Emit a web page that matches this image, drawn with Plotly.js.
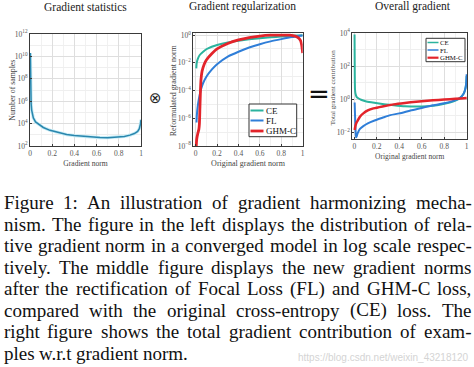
<!DOCTYPE html>
<html><head><meta charset="utf-8">
<script src="https://cdn.plot.ly/plotly-3.0.1.min.js"></script>
<style>html,body{margin:0;padding:0;background:#fff;}#chart{width:474px;height:367px;}</style>
</head><body><div id="chart"></div>
<script>
// ---------- data ----------
// Panel 1: Gradient statistics
const statX = [0.003,0.004,0.005,0.0065,0.008,0.01,0.015,0.02,0.03,0.05,0.08,0.12,0.18,0.25,0.33,0.4,0.48,0.55,0.63,0.7,0.78,0.85,0.9,0.94,0.97,0.985,0.995,1.0];
const statY = [2e10,1e9,1.6e8,1.6e7,3.2e6,6.3e5,1.6e5,8e4,3.2e4,1.4e4,8e3,4.5e3,2.5e3,1.6e3,1.05e3,850,720,630,560,550,590,710,930,1.3e3,2e3,3.5e3,9e3,2.2e4];

// Panel 2: Gradient regularization
const regCEx = [0.006,0.01,0.02,0.04,0.07,0.1,0.15,0.2,0.3,0.4,0.5,0.6,0.7,0.8,0.9,1.0];
const regCEy = [0.004,0.01,0.019,0.038,0.063,0.095,0.145,0.195,0.295,0.39,0.49,0.59,0.69,0.79,0.89,0.98];
const regFLx = [0.008,0.012,0.02,0.03,0.05,0.07,0.1,0.15,0.2,0.3,0.4,0.5,0.6,0.7,0.8,0.9,1.0];
const regFLy = [5e-7,2e-6,8e-6,2.5e-5,1.25e-4,3.5e-4,1e-3,3.2e-3,7.9e-3,0.028,0.063,0.126,0.22,0.35,0.51,0.72,0.95];
const regGHMx = [0.005,0.01,0.02,0.03,0.035,0.04,0.045,0.05,0.06,0.08,0.1,0.15,0.2,0.3,0.4,0.5,0.6,0.7,0.8,0.88,0.93,0.96,0.98,0.99,1.0];
const regGHMy = [8e-9,3.2e-8,8e-8,1.6e-7,4e-7,6.3e-6,1e-4,6.3e-4,2.5e-3,7.9e-3,0.016,0.045,0.1,0.25,0.45,0.66,0.85,0.98,1.0,0.98,0.83,0.63,0.4,0.2,0.05];

// Panel 3: Overall gradient
const totCEx = [0.002,0.004,0.006,0.01,0.02,0.035,0.06,0.1,0.15,0.25,0.35,0.45,0.55,0.65,0.75,0.85,0.9,0.94,0.97,0.985,0.995,1.0];
const totCEy = [8000,32,4,2.2,1.4,1.15,0.93,0.76,0.66,0.52,0.44,0.38,0.36,0.38,0.45,0.63,0.83,1.2,2.0,3.5,7.9,25];
const totFLx = [0.003,0.006,0.01,0.015,0.02,0.03,0.05,0.08,0.12,0.18,0.25,0.32,0.4,0.5,0.6,0.7,0.8,0.86,0.9,0.94,0.97,0.985,0.995,1.0];
const totFLy = [0.63,0.126,0.02,0.005,0.0056,0.0089,0.016,0.024,0.035,0.052,0.076,0.11,0.14,0.21,0.3,0.43,0.58,0.72,0.89,1.2,2.0,3.5,7.9,32];
const totGHMx = [0.003,0.01,0.02,0.03,0.05,0.08,0.12,0.17,0.25,0.35,0.45,0.55,0.65,0.75,0.85,0.95,1.0];
const totGHMy = [0.014,0.025,0.04,0.052,0.089,0.14,0.21,0.28,0.37,0.49,0.6,0.71,0.81,0.91,1.0,1.12,1.2];

// Labels
const seriesNames = ['CE','FL','GHM-C'];
const xTickVals = [0,0.2,0.4,0.6,0.8,1];
const xTickText = ['0','0.2','0.4','0.6','0.8','1'];
const panelTitles = ['Gradient statistics','Gradient regularization','Overall gradient'];
const xTitles = ['Gradient norm','Original gradient norm','Original gradient norm'];
const yTitles = ['Number of samples','Reformulated gradient norm','Total gradient contribution'];
const y1Exp = [2,4,6,8,10,12];
const y2Exp = [-8,-6,-4,-2,0];
const y3Exp = [-2,0,2,4];
const captionLines = [
 'Figure 1: An illustration of gradient harmonizing mecha-',
 'nism. The figure in the left displays the distribution of rela-',
 'tive gradient norm in a converged model in log scale respec-',
 'tively. The middle figure displays the new gradient norms',
 'after the rectification of Focal Loss (FL) and GHM-C loss,',
 'compared with the original cross-entropy (CE) loss. The',
 'right figure shows the total gradient contribution of exam-',
 'ples w.r.t gradient norm.'
];
const watermark = 'https://blog.csdn.net/weixin_43218120';

// ---------- styling / layout ----------
const W = 474, H = 367;
const px = x => x / W;
const py = y => 1 - y / H;
const C_CE = '#2bb39e', C_FL = '#2f7ed8', C_GHM = '#e3242b';
const SERIF = '"Liberation Serif", "Times New Roman", serif';

const decTicks = exps => exps.map(e => Math.pow(10, e));
const decText = exps => exps.map(e => '10<sup>' + (e < 0 ? '\u2212' + (-e) : e) + '</sup>');
const oddDec = exps => { const o = []; for (let i = 0; i < exps.length - 1; i++) o.push(Math.pow(10, (exps[i] + exps[i+1]) / 2)); return o; };

const axBase = {
  showline: true, mirror: true, linecolor: '#3a3a3a', linewidth: 1,
  showgrid: true, gridcolor: '#dedede', gridwidth: 1, zeroline: false,
  ticks: 'inside', ticklen: 2, tickcolor: '#3a3a3a',
  tickfont: {family: SERIF, size: 7.5, color: '#555'},
  automargin: false
};
function xAx(dom, range, title, anchor, tsize) {
  return Object.assign({}, axBase, {
    domain: dom, range: range, anchor: anchor,
    tickmode: 'array', tickvals: xTickVals, ticktext: xTickText,
    minor: {dtick: 0.1, showgrid: true, gridcolor: '#f1f1f1', ticks: ''},
    title: {text: title, font: {family: SERIF, size: tsize, color: '#444'}, standoff: 3}
  });
}
function yAx(dom, range, exps, anchor) {
  return Object.assign({}, axBase, {
    domain: dom, type: 'log', range: range, anchor: anchor,
    tickmode: 'array', tickvals: decTicks(exps), ticktext: decText(exps),
    minor: {tickmode: 'array', tickvals: oddDec(exps), showgrid: true, gridcolor: '#efefef', ticks: ''}
  });
}

const traces = [
  {x: statX, y: statY, xaxis: 'x', yaxis: 'y', mode: 'lines', line: {color: '#c6ecf6', width: 3.2}, hoverinfo: 'skip', name: 'band'},
  {x: statX, y: statY, xaxis: 'x', yaxis: 'y', mode: 'lines', line: {color: '#2a86ad', width: 1.5}, name: 'count'},
  {x: regCEx, y: regCEy, xaxis: 'x2', yaxis: 'y2', mode: 'lines', line: {color: C_CE, width: 2, shape: 'spline', smoothing: 0.6}, name: seriesNames[0]},
  {x: regFLx, y: regFLy, xaxis: 'x2', yaxis: 'y2', mode: 'lines', line: {color: C_FL, width: 2, shape: 'spline', smoothing: 0.6}, name: seriesNames[1]},
  {x: regGHMx, y: regGHMy, xaxis: 'x2', yaxis: 'y2', mode: 'lines', line: {color: C_GHM, width: 2.8, shape: 'spline', smoothing: 0.6}, name: seriesNames[2]},
  {x: totCEx, y: totCEy, xaxis: 'x3', yaxis: 'y3', mode: 'lines', line: {color: C_CE, width: 2, shape: 'spline', smoothing: 0.6}, name: seriesNames[0]},
  {x: totFLx, y: totFLy, xaxis: 'x3', yaxis: 'y3', mode: 'lines', line: {color: C_FL, width: 2, shape: 'spline', smoothing: 0.6}, name: seriesNames[1]},
  {x: totGHMx, y: totGHMy, xaxis: 'x3', yaxis: 'y3', mode: 'lines', line: {color: C_GHM, width: 2.5, shape: 'spline', smoothing: 0.6}, name: seriesNames[2]}
];

const shapes = [];
const annotations = [];
function ann(text, x, y, size, opts) {
  annotations.push(Object.assign({
    text: text, x: px(x), y: py(y), xref: 'paper', yref: 'paper',
    showarrow: false, xanchor: 'center', yanchor: 'middle', borderpad: 0,
    font: {family: SERIF, size: size, color: '#222'}
  }, opts || {}));
}
// panel titles
ann(panelTitles[0], 85, 7, 11.5);
ann(panelTitles[1], 242.5, 7, 11.5);
ann(panelTitles[2], 412.5, 6.5, 11.5);
// y-axis titles (rotated)
ann(yTitles[0], 11.7, 90, 7.8, {textangle: -90, font: {family: SERIF, size: 7.8, color: '#444'}});
ann(yTitles[1], 173.3, 90, 8, {textangle: -90, font: {family: SERIF, size: 8, color: '#444'}});
ann(yTitles[2], 333.3, 88, 7, {textangle: -90, font: {family: SERIF, size: 7, color: '#444'}});
// operators
ann('\u2297', 155, 98, 15, {font: {family: '"DejaVu Sans", sans-serif', size: 15, color: '#222'}});
ann('=', 319, 94, 26, {font: {family: '"DejaVu Sans", sans-serif', size: 26, color: '#111'}});

// manual legends
function legend(box, x0, x1, ys, tx, fsize, widths) {
  shapes.push({type: 'rect', xref: 'paper', yref: 'paper', x0: px(box[0]), x1: px(box[1]), y0: py(box[3]), y1: py(box[2]),
    line: {color: '#333', width: 1}, fillcolor: '#fff', layer: 'above'});
  const cols = [C_CE, C_FL, C_GHM];
  ys.forEach((y, i) => {
    shapes.push({type: 'line', xref: 'paper', yref: 'paper', x0: px(x0), x1: px(x1), y0: py(y), y1: py(y),
      line: {color: cols[i], width: widths[i]}, layer: 'above'});
    ann(seriesNames[i], tx, y, fsize, {xanchor: 'left', font: {family: SERIF, size: fsize, color: '#111'}});
  });
}
legend([249, 296.7, 104, 136.7], 250.5, 263.5, [110.5, 120.5, 131], 264.5, 9, [2, 2, 2.8]);
legend([426, 465, 38.3, 61.7], 427.5, 438.5, [42.5, 50, 57.7], 439, 6.8, [1.5, 1.5, 2.2]);

// caption (justified by measuring words)
const CAP = 19;
const ctx = document.createElement('canvas').getContext('2d');
ctx.font = CAP + 'px "Liberation Serif"';
const capLeft = 2.5, capRight = 470.5;
const baselines = [209, 230.5, 252, 273.5, 295, 316.5, 338, 359.5];
captionLines.forEach((line, li) => {
  const words = line.split(' ');
  const widths = words.map(w => ctx.measureText(w).width);
  const total = widths.reduce((a, b) => a + b, 0);
  const last = li === captionLines.length - 1;
  const gap = last ? ctx.measureText(' ').width : (capRight - capLeft - total) / (words.length - 1);
  let x = capLeft;
  const yc = baselines[li] - 0.3375 * CAP;
  words.forEach((w, i) => {
    annotations.push({text: w, x: px(x), y: py(yc), xref: 'paper', yref: 'paper', showarrow: false,
      xanchor: 'left', yanchor: 'middle', borderpad: 0, font: {family: SERIF, size: CAP, color: '#111'}});
    x += widths[i] + gap;
  });
});
ann(watermark, 470, 357, 10, {xanchor: 'right', font: {family: '"Liberation Sans", Arial, sans-serif', size: 10, color: '#d4d4d4'}});

const layout = {
  width: W, height: H, margin: {l: 0, r: 0, t: 0, b: 0},
  paper_bgcolor: '#fff', plot_bgcolor: '#fff', showlegend: false,
  font: {family: SERIF, size: 8, color: '#444'},
  xaxis: xAx([px(30), px(141)], [0, 1], xTitles[0], 'y', 7.6),
  yaxis: yAx([py(146), py(34)], [2, 12], y1Exp, 'x'),
  xaxis2: xAx([px(193.3), px(302.7)], [-0.022, 1.0], xTitles[1], 'y2', 8),
  yaxis2: yAx([py(146), py(33)], [-8, 0.15], y2Exp, 'x2'),
  xaxis3: xAx([px(352.3), px(467)], [-0.018, 1.003], xTitles[2], 'y3', 7.5),
  yaxis3: yAx([py(139), py(33)], [-2.4, 4.0], y3Exp, 'x3'),
  shapes: shapes, annotations: annotations
};
Plotly.newPlot('chart', traces, layout, {staticPlot: true, displayModeBar: false});
</script></body></html>
